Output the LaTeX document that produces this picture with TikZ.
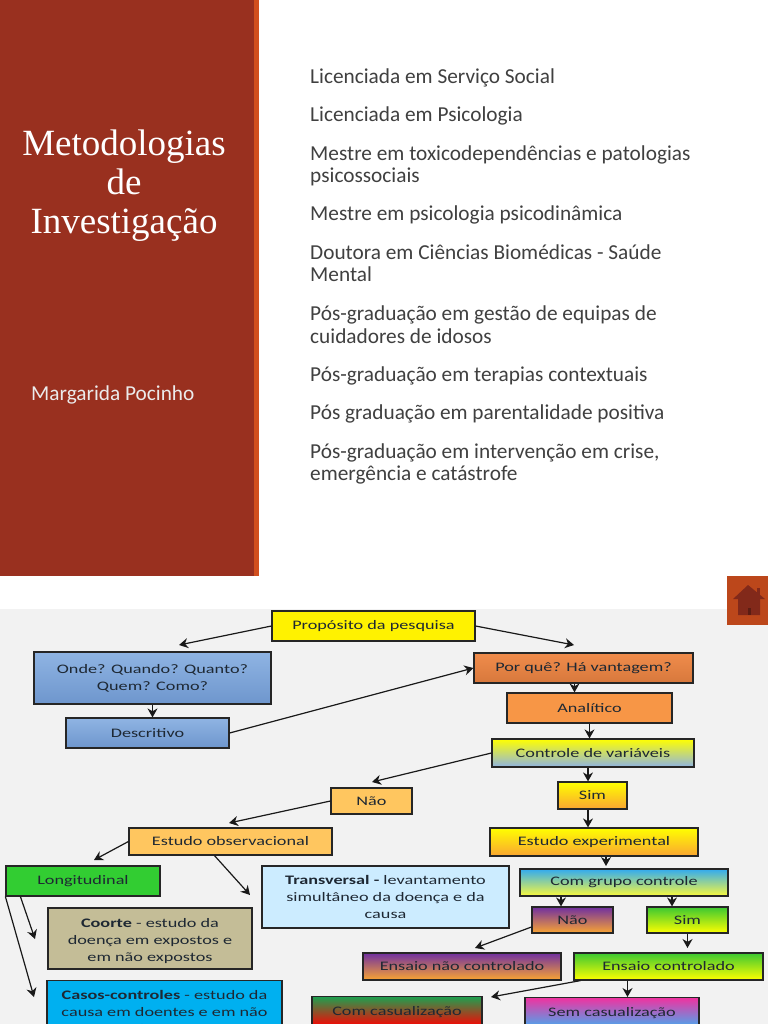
\documentclass[tikz,border=0pt]{standalone}
\usepackage{fontspec}
\usetikzlibrary{arrows.meta}
\setmainfont{Carlito}
\newfontfamily\boxfont[FakeStretch=1.4]{Carlito}
\newfontfamily\titlefont{Liberation Serif}
\definecolor{panelred}{HTML}{99301F}
\definecolor{stripred}{HTML}{D14F1E}
\definecolor{boxink}{HTML}{1E2833}
\definecolor{softblue}{RGB}{143,180,227}
\definecolor{deepblue}{RGB}{110,150,205}
\definecolor{softorange}{RGB}{250,165,50}
\definecolor{lightorange}{RGB}{255,198,95}
\definecolor{violet}{RGB}{112,48,160}
\definecolor{grassgreen}{RGB}{60,200,50}
\tikzset{
  box/.style={draw=black!85,line width=1.2pt,inner sep=0pt,align=center,text=boxink,
    font=\boxfont\fontsize{13}{17}\selectfont},
  arr/.style={line width=1.2pt,black!90,-{Stealth[length=9pt,width=10pt]}},
  item/.style={anchor=west,align=left,inner sep=0pt,text=black!75,
    font=\fontsize{21.3}{22.6}\selectfont},
}
\begin{document}
\begin{tikzpicture}[x=1pt,y=-1pt]
  \clip (0,0) rectangle (768,1024);
  \fill[white] (0,0) rectangle (768,1024);
  % upper slide
  \fill[panelred] (0,0) rectangle (254,576);
  \fill[stripred] (254,0) rectangle (259,576);
  \node[align=center,inner sep=0pt,text=white,font=\titlefont\fontsize{37}{39}\selectfont] (title) at (124,185.5)
    {Metodologias\\de\\Investigação};
  \node[anchor=west,inner sep=0pt,text=white!92!black,font=\fontsize{21.3}{22}\selectfont] (author) at (31,395) {Margarida Pocinho};
  \foreach \y/\t in {78/{Licenciada em Serviço Social},
      116/{Licenciada em Psicologia},
      166/{Mestre em toxicodependências e patologias\\psicossociais},
      215/{Mestre em psicologia psicodinâmica},
      263/{Doutora em Ciências Biomédicas - Saúde\\Mental},
      324.5/{Pós-graduação em gestão de equipas de\\cuidadores de idosos},
      376/{Pós-graduação em terapias contextuais},
      414/{Pós graduação em parentalidade positiva},
      464/{Pós-graduação em intervenção em crise,\\emergência e catástrofe}}
    \node[item] (item\y) at (310,\y) {\t};
  % lower slide
  \fill[black!5] (0,609) rectangle (768,1024);
  \fill[stripred!90!black] (727,576) rectangle (768,625);
  \fill[panelred!85!black] (748,585) -- (765,599) -- (760,599) -- (760,615) -- (738,615) -- (738,599) -- (733,599) -- cycle;
  \fill[panelred!85!black] (757,588) rectangle (760,596);
  \fill[panelred!60!black] (748,608) rectangle (751,615);
  % boxes
  \node[box,fill=yellow,minimum width=203,minimum height=30] (prop) at (373.5,626) {Propósito da pesquisa};
  \node[box,top color=softblue,bottom color=deepblue,minimum width=237,minimum height=52] (onde) at (152.5,678) {Onde? Quando? Quanto?\\Quem? Como?};
  \node[box,top color=softblue,bottom color=deepblue,minimum width=163,minimum height=30] (desc) at (147.5,733) {Descritivo};
  \node[box,top color={rgb,255:red,240;green,140;blue,75},bottom color={rgb,255:red,215;green,120;blue,60},minimum width=219,minimum height=30] (porque) at (583.5,668) {Por quê? Há vantagem?};
  \node[box,fill={rgb,255:red,247;green,150;blue,70},minimum width=165,minimum height=30] (ana) at (589.5,708) {Analítico};
  \node[box,top color=yellow,bottom color=softblue,minimum width=202,minimum height=28] (ctrl) at (593,753) {Controle de variáveis};
  \node[box,fill=lightorange,minimum width=81,minimum height=26] (nao) at (371.5,801) {Não};
  \node[box,top color=yellow,bottom color=softorange,minimum width=69,minimum height=27] (sim) at (592.5,795.5) {Sim};
  \node[box,top color=yellow,bottom color=softorange,minimum width=208,minimum height=28] (exp) at (594,842) {Estudo experimental};
  \node[box,fill=lightorange,minimum width=203,minimum height=27] (obs) at (230.5,841.5) {Estudo observacional};
  \node[box,fill={rgb,255:red,50;green,205;blue,50},minimum width=154,minimum height=30] (long) at (83,881) {Longitudinal};
  \node[box,fill={rgb,255:red,204;green,236;blue,255},minimum width=247,minimum height=62] (trans) at (385.5,897) {\textbf{Transversal -} levantamento\\simultâneo da doença e da\\causa};
  \node[box,top color={rgb,255:red,50;green,170;blue,240},bottom color={rgb,255:red,250;green,250;blue,60},minimum width=208,minimum height=27] (com) at (624,882.5) {Com grupo controle};
  \node[box,top color=violet,bottom color=softorange,minimum width=81,minimum height=26] (nao2) at (572.5,920) {Não};
  \node[box,top color=grassgreen,bottom color=yellow,minimum width=81,minimum height=26] (sim2) at (687.5,920) {Sim};
  \node[box,fill={rgb,255:red,196;green,189;blue,151},minimum width=204,minimum height=61] (coorte) at (150,938.5) {\rule{0pt}{15pt}\textbf{Coorte} - estudo da\\doença em expostos e\\em não expostos};
  \node[box,top color=violet,bottom color=softorange,minimum width=198,minimum height=27] (ensnao) at (462,966.5) {Ensaio não controlado};
  \node[box,top color=grassgreen,bottom color=yellow,minimum width=189,minimum height=27] (ensc) at (668.5,966.5) {Ensaio controlado};
  \node[box,anchor=north,fill={rgb,255:red,0;green,176;blue,240},minimum width=235,minimum height=62] (casos) at (164.5,980) {\textbf{Casos-controles} - estudo da\\causa em doentes e em não\\doentes};
  \node[box,anchor=north,top color={rgb,255:red,30;green,160;blue,80},bottom color=red,minimum width=170,minimum height=30] (comc) at (397,996) {Com casualização};
  \node[box,anchor=north,top color={rgb,255:red,240;green,50;blue,160},bottom color={rgb,255:red,70;green,170;blue,240},minimum width=174,minimum height=30] (semc) at (612,997) {Sem casualização};
  % free arrow ends
  \foreach \n/\x/\y in {tipl/179/645, tipr/574/645, tipnao/372/782, tipobs/229/823,
      tiplong/94/860, tiptrans/250/895, tipcoorte/35/939, tipcasos/34/997,
      tipcom/606/866, tipens/475/948, tipsim/687.5/948, tipcomc/491/997}
    \coordinate (\n) at (\x,\y);
  % connectors
  \draw[arr] (prop.west) -- (tipl);
  \draw[arr] (prop.east) -- (tipr);
  \draw[arr] (onde.south) -- (onde.south |- desc.north);
  \draw[arr] (desc.east) -- (porque.west);
  \draw[arr] ([xshift=-9pt]porque.south) -- ([xshift=-9pt]porque.south |- ana.north);
  \draw[arr] (ana.south) -- (ana.south |- ctrl.north);
  \draw[arr] (ctrl.west) -- (tipnao);
  \draw[arr] ([xshift=-5pt]ctrl.south) -- ([xshift=-5pt]ctrl.south |- sim.north);
  \draw[arr] ([xshift=-4.5pt]sim.south) -- ([xshift=-4.5pt]sim.south |- exp.north);
  \draw[arr] (nao.west) -- (tipobs);
  \draw[arr] (obs.west) -- (tiplong);
  \draw[arr] ([xshift=-16pt]obs.south) -- (tiptrans);
  \draw[arr] ([xshift=15pt]long.south west) -- (tipcoorte);
  \draw[arr] (long.south west) -- (tipcasos);
  \draw[arr] ([xshift=12pt]exp.south) -- (tipcom);
  \draw[arr] ([xshift=-63pt]com.south) -- ([xshift=-63pt]com.south |- nao2.north);
  \draw[arr] ([xshift=48pt]com.south) -- ([xshift=48pt]com.south |- sim2.north);
  \draw[arr] ([yshift=-7pt]nao2.west) -- (tipens);
  \draw[arr] (sim2.south) -- (tipsim);
  \draw[arr] ([xshift=7pt]ensc.south west) -- (tipcomc);
  \draw[arr] ([xshift=-41pt]ensc.south) -- ([xshift=-41pt]ensc.south |- semc.north);
\end{tikzpicture}
\end{document}
